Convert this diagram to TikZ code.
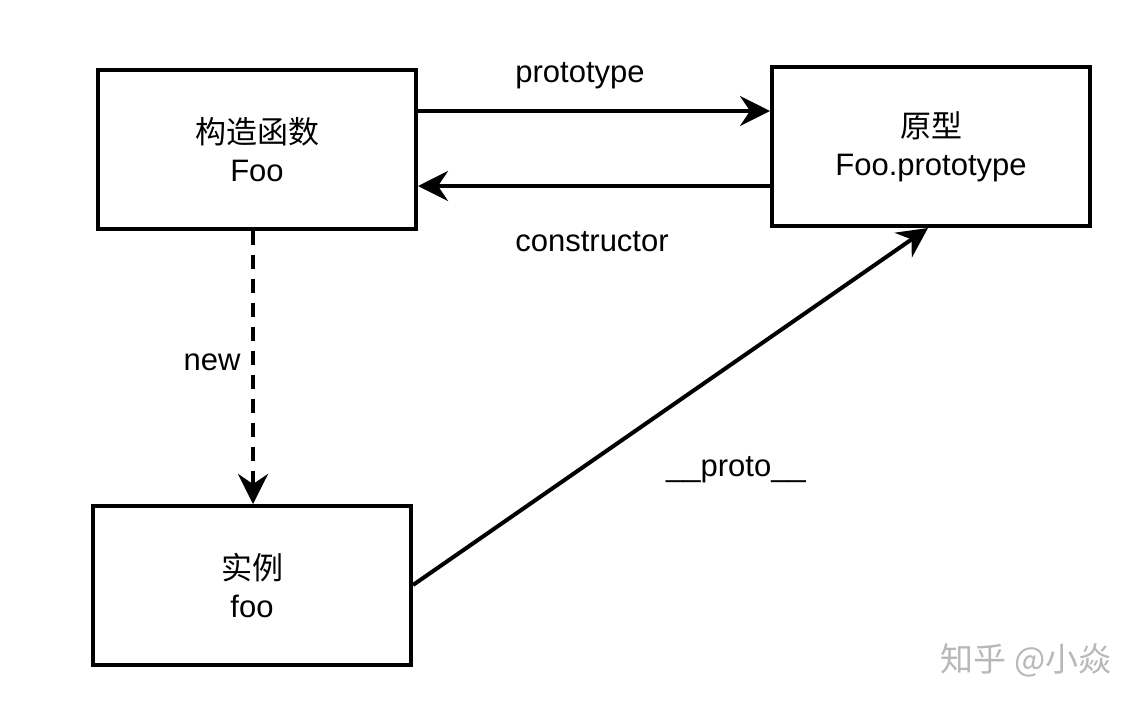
\documentclass[tikz,border=0pt]{standalone}
\usepackage{fontspec}
\setmainfont{Liberation Sans}
\newfontfamily\cjk{Noto Sans CJK SC}
\usetikzlibrary{arrows.meta}

\begin{document}
\begin{tikzpicture}[x=0.5pt, y=-0.5pt,
        box/.style={draw, line width=2pt, minimum width=159pt, minimum height=79.5pt,
            align=center, font=\fontsize{15.5}{19}\selectfont, inner sep=0pt},
        lbl/.style={font=\fontsize{15.5}{19}\selectfont, inner sep=0pt},
        link/.style={line width=2pt, -{Stealth[length=15pt, width=15pt, inset=5pt]}}]
    \useasboundingbox (0,0) rectangle (1144,708);

    % the three boxes
    \node[box] (ctor) at (257,149.5) {{\cjk 构造函数}\\Foo};
    \node[box] (proto) at (931,146.5) {{\cjk 原型}\\Foo.prototype};
    \node[box] (inst) at (252,585.5) {{\cjk 实例}\\foo};

    % links between them
    \draw[link] (ctor.east |- 0,111) -- (proto.west |- 0,111);
    \draw[link] (proto.west |- 0,186) -- (ctor.east |- 0,186);
    \draw[link, dash pattern=on 7pt off 5pt] (ctor.south -| 253,0) -- (inst.north -| 253,0);
    \draw[link] (inst.east |- 0,585) -- (proto.south -| 928,0);

    \node[lbl] (lproto) at (580,76) {prototype};
    \node[lbl] (lctor) at (592,242) {constructor};
    \node[lbl] (lnew) at (212,362) {new};
    \node[lbl] (l__) at (736,470) {\_\_proto\_\_};

    % watermark
    \node[font=\cjk\fontsize{16.5}{20}\selectfont, text=black!28, inner sep=0pt] (mark) at (1026,660) {知乎 @小焱};
\end{tikzpicture}
\end{document}
